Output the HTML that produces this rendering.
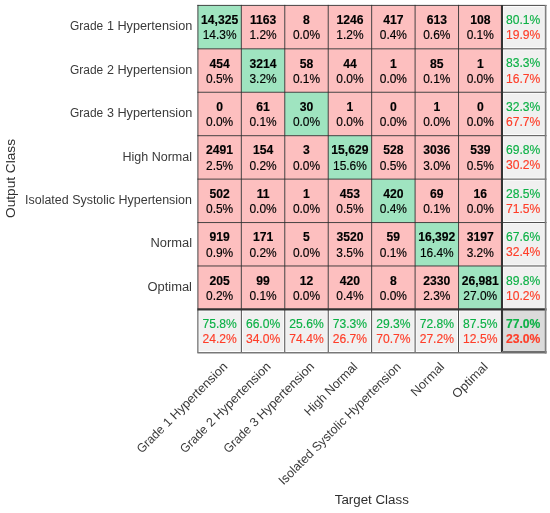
<!DOCTYPE html>
<html><head><meta charset="utf-8"><title>Confusion Matrix</title>
<style>
html,body{margin:0;padding:0;background:#fff;}
body{width:550px;height:513px;overflow:hidden;}
svg{display:block;font-family:"Liberation Sans",sans-serif;}
.b{font-weight:bold;}
.c{font-size:11.95px;text-anchor:middle;fill:#000;stroke:#000;stroke-width:.15px;}
.c.k{font-size:12.1px;}
.c.b{font-size:12.15px;stroke-width:.15px;}
.l{font-size:12.5px;fill:#3a3a3a;}
.t{font-size:13.7px;fill:#2e2e2e;}
</style></head><body>
<svg width="550" height="513" viewBox="0 0 550 513">
<rect width="550" height="513" fill="#fff"/>
<rect x="197.90" y="5.40" width="43.44" height="43.43" fill="#9fe4c0"/>
<rect x="241.34" y="5.40" width="43.44" height="43.43" fill="#fdbfbf"/>
<rect x="284.78" y="5.40" width="43.44" height="43.43" fill="#fdbfbf"/>
<rect x="328.22" y="5.40" width="43.44" height="43.43" fill="#fdbfbf"/>
<rect x="371.66" y="5.40" width="43.44" height="43.43" fill="#fdbfbf"/>
<rect x="415.10" y="5.40" width="43.44" height="43.43" fill="#fdbfbf"/>
<rect x="458.54" y="5.40" width="43.44" height="43.43" fill="#fdbfbf"/>
<rect x="503.88" y="6.80" width="39.92" height="40.63" fill="#f0f0f0"/>
<rect x="197.90" y="48.83" width="43.44" height="43.43" fill="#fdbfbf"/>
<rect x="241.34" y="48.83" width="43.44" height="43.43" fill="#9fe4c0"/>
<rect x="284.78" y="48.83" width="43.44" height="43.43" fill="#fdbfbf"/>
<rect x="328.22" y="48.83" width="43.44" height="43.43" fill="#fdbfbf"/>
<rect x="371.66" y="48.83" width="43.44" height="43.43" fill="#fdbfbf"/>
<rect x="415.10" y="48.83" width="43.44" height="43.43" fill="#fdbfbf"/>
<rect x="458.54" y="48.83" width="43.44" height="43.43" fill="#fdbfbf"/>
<rect x="503.88" y="50.23" width="39.92" height="40.63" fill="#f0f0f0"/>
<rect x="197.90" y="92.26" width="43.44" height="43.43" fill="#fdbfbf"/>
<rect x="241.34" y="92.26" width="43.44" height="43.43" fill="#fdbfbf"/>
<rect x="284.78" y="92.26" width="43.44" height="43.43" fill="#9fe4c0"/>
<rect x="328.22" y="92.26" width="43.44" height="43.43" fill="#fdbfbf"/>
<rect x="371.66" y="92.26" width="43.44" height="43.43" fill="#fdbfbf"/>
<rect x="415.10" y="92.26" width="43.44" height="43.43" fill="#fdbfbf"/>
<rect x="458.54" y="92.26" width="43.44" height="43.43" fill="#fdbfbf"/>
<rect x="503.88" y="93.66" width="39.92" height="40.63" fill="#f0f0f0"/>
<rect x="197.90" y="135.69" width="43.44" height="43.43" fill="#fdbfbf"/>
<rect x="241.34" y="135.69" width="43.44" height="43.43" fill="#fdbfbf"/>
<rect x="284.78" y="135.69" width="43.44" height="43.43" fill="#fdbfbf"/>
<rect x="328.22" y="135.69" width="43.44" height="43.43" fill="#9fe4c0"/>
<rect x="371.66" y="135.69" width="43.44" height="43.43" fill="#fdbfbf"/>
<rect x="415.10" y="135.69" width="43.44" height="43.43" fill="#fdbfbf"/>
<rect x="458.54" y="135.69" width="43.44" height="43.43" fill="#fdbfbf"/>
<rect x="503.88" y="137.09" width="39.92" height="40.63" fill="#f0f0f0"/>
<rect x="197.90" y="179.12" width="43.44" height="43.43" fill="#fdbfbf"/>
<rect x="241.34" y="179.12" width="43.44" height="43.43" fill="#fdbfbf"/>
<rect x="284.78" y="179.12" width="43.44" height="43.43" fill="#fdbfbf"/>
<rect x="328.22" y="179.12" width="43.44" height="43.43" fill="#fdbfbf"/>
<rect x="371.66" y="179.12" width="43.44" height="43.43" fill="#9fe4c0"/>
<rect x="415.10" y="179.12" width="43.44" height="43.43" fill="#fdbfbf"/>
<rect x="458.54" y="179.12" width="43.44" height="43.43" fill="#fdbfbf"/>
<rect x="503.88" y="180.52" width="39.92" height="40.63" fill="#f0f0f0"/>
<rect x="197.90" y="222.55" width="43.44" height="43.43" fill="#fdbfbf"/>
<rect x="241.34" y="222.55" width="43.44" height="43.43" fill="#fdbfbf"/>
<rect x="284.78" y="222.55" width="43.44" height="43.43" fill="#fdbfbf"/>
<rect x="328.22" y="222.55" width="43.44" height="43.43" fill="#fdbfbf"/>
<rect x="371.66" y="222.55" width="43.44" height="43.43" fill="#fdbfbf"/>
<rect x="415.10" y="222.55" width="43.44" height="43.43" fill="#9fe4c0"/>
<rect x="458.54" y="222.55" width="43.44" height="43.43" fill="#fdbfbf"/>
<rect x="503.88" y="223.95" width="39.92" height="40.63" fill="#f0f0f0"/>
<rect x="197.90" y="265.98" width="43.44" height="43.43" fill="#fdbfbf"/>
<rect x="241.34" y="265.98" width="43.44" height="43.43" fill="#fdbfbf"/>
<rect x="284.78" y="265.98" width="43.44" height="43.43" fill="#fdbfbf"/>
<rect x="328.22" y="265.98" width="43.44" height="43.43" fill="#fdbfbf"/>
<rect x="371.66" y="265.98" width="43.44" height="43.43" fill="#fdbfbf"/>
<rect x="415.10" y="265.98" width="43.44" height="43.43" fill="#fdbfbf"/>
<rect x="458.54" y="265.98" width="43.44" height="43.43" fill="#9fe4c0"/>
<rect x="503.88" y="267.38" width="39.92" height="40.63" fill="#f0f0f0"/>
<rect x="199.30" y="311.31" width="40.64" height="39.59" fill="#f0f0f0"/>
<rect x="242.74" y="311.31" width="40.64" height="39.59" fill="#f0f0f0"/>
<rect x="286.18" y="311.31" width="40.64" height="39.59" fill="#f0f0f0"/>
<rect x="329.62" y="311.31" width="40.64" height="39.59" fill="#f0f0f0"/>
<rect x="373.06" y="311.31" width="40.64" height="39.59" fill="#f0f0f0"/>
<rect x="416.50" y="311.31" width="40.64" height="39.59" fill="#f0f0f0"/>
<rect x="459.94" y="311.31" width="40.64" height="39.59" fill="#f0f0f0"/>
<rect x="501.98" y="309.41" width="43.44" height="43.43" fill="#dbdbdb"/>
<line x1="197.90" y1="4.90" x2="197.90" y2="352.80" stroke="#2e2e2e" stroke-width="0.88"/>
<line x1="197.40" y1="5.40" x2="546.50" y2="5.40" stroke="#2e2e2e" stroke-width="0.88"/>
<line x1="241.34" y1="4.90" x2="241.34" y2="352.80" stroke="#2e2e2e" stroke-width="0.88"/>
<line x1="197.40" y1="48.83" x2="546.50" y2="48.83" stroke="#2e2e2e" stroke-width="0.88"/>
<line x1="284.78" y1="4.90" x2="284.78" y2="352.80" stroke="#2e2e2e" stroke-width="0.88"/>
<line x1="197.40" y1="92.26" x2="546.50" y2="92.26" stroke="#2e2e2e" stroke-width="0.88"/>
<line x1="328.22" y1="4.90" x2="328.22" y2="352.80" stroke="#2e2e2e" stroke-width="0.88"/>
<line x1="197.40" y1="135.69" x2="546.50" y2="135.69" stroke="#2e2e2e" stroke-width="0.88"/>
<line x1="371.66" y1="4.90" x2="371.66" y2="352.80" stroke="#2e2e2e" stroke-width="0.88"/>
<line x1="197.40" y1="179.12" x2="546.50" y2="179.12" stroke="#2e2e2e" stroke-width="0.88"/>
<line x1="415.10" y1="4.90" x2="415.10" y2="352.80" stroke="#2e2e2e" stroke-width="0.88"/>
<line x1="197.40" y1="222.55" x2="546.50" y2="222.55" stroke="#2e2e2e" stroke-width="0.88"/>
<line x1="458.54" y1="4.90" x2="458.54" y2="352.80" stroke="#2e2e2e" stroke-width="0.88"/>
<line x1="197.40" y1="265.98" x2="546.50" y2="265.98" stroke="#2e2e2e" stroke-width="0.88"/>
<line x1="501.98" y1="4.90" x2="501.98" y2="352.80" stroke="#333" stroke-width="2.1"/>
<line x1="197.40" y1="309.41" x2="546.50" y2="309.41" stroke="#333" stroke-width="2.1"/>
<line x1="197.40" y1="352.70" x2="501.98" y2="352.70" stroke="#787878" stroke-width="1.6"/>
<line x1="501.98" y1="352.30" x2="546.60" y2="352.30" stroke="#6e6e6e" stroke-width="2.4"/>
<line x1="545.60" y1="4.90" x2="545.60" y2="353.50" stroke="#808080" stroke-width="1.7"/>
<text class="c b" x="219.62" y="24.20">14,325</text>
<text class="c" x="219.62" y="39.40">14.3%</text>
<text class="c b" x="263.06" y="24.20">1163</text>
<text class="c" x="263.06" y="39.40">1.2%</text>
<text class="c b" x="306.50" y="24.20">8</text>
<text class="c" x="306.50" y="39.40">0.0%</text>
<text class="c b" x="349.94" y="24.20">1246</text>
<text class="c" x="349.94" y="39.40">1.2%</text>
<text class="c b" x="393.38" y="24.20">417</text>
<text class="c" x="393.38" y="39.40">0.4%</text>
<text class="c b" x="436.82" y="24.20">613</text>
<text class="c" x="436.82" y="39.40">0.6%</text>
<text class="c b" x="480.26" y="24.20">108</text>
<text class="c" x="480.26" y="39.40">0.1%</text>
<text class="c k" x="523.10" y="23.95" style="fill:#0cb146;stroke:#0cb146">80.1%</text>
<text class="c k" x="523.10" y="39.10" style="fill:#ff3d28;stroke:#ff3d28">19.9%</text>
<text class="c b" x="219.62" y="67.63">454</text>
<text class="c" x="219.62" y="82.83">0.5%</text>
<text class="c b" x="263.06" y="67.63">3214</text>
<text class="c" x="263.06" y="82.83">3.2%</text>
<text class="c b" x="306.50" y="67.63">58</text>
<text class="c" x="306.50" y="82.83">0.1%</text>
<text class="c b" x="349.94" y="67.63">44</text>
<text class="c" x="349.94" y="82.83">0.0%</text>
<text class="c b" x="393.38" y="67.63">1</text>
<text class="c" x="393.38" y="82.83">0.0%</text>
<text class="c b" x="436.82" y="67.63">85</text>
<text class="c" x="436.82" y="82.83">0.1%</text>
<text class="c b" x="480.26" y="67.63">1</text>
<text class="c" x="480.26" y="82.83">0.0%</text>
<text class="c k" x="523.10" y="67.38" style="fill:#0cb146;stroke:#0cb146">83.3%</text>
<text class="c k" x="523.10" y="82.53" style="fill:#ff3d28;stroke:#ff3d28">16.7%</text>
<text class="c b" x="219.62" y="111.06">0</text>
<text class="c" x="219.62" y="126.26">0.0%</text>
<text class="c b" x="263.06" y="111.06">61</text>
<text class="c" x="263.06" y="126.26">0.1%</text>
<text class="c b" x="306.50" y="111.06">30</text>
<text class="c" x="306.50" y="126.26">0.0%</text>
<text class="c b" x="349.94" y="111.06">1</text>
<text class="c" x="349.94" y="126.26">0.0%</text>
<text class="c b" x="393.38" y="111.06">0</text>
<text class="c" x="393.38" y="126.26">0.0%</text>
<text class="c b" x="436.82" y="111.06">1</text>
<text class="c" x="436.82" y="126.26">0.0%</text>
<text class="c b" x="480.26" y="111.06">0</text>
<text class="c" x="480.26" y="126.26">0.0%</text>
<text class="c k" x="523.10" y="110.81" style="fill:#0cb146;stroke:#0cb146">32.3%</text>
<text class="c k" x="523.10" y="125.96" style="fill:#ff3d28;stroke:#ff3d28">67.7%</text>
<text class="c b" x="219.62" y="154.49">2491</text>
<text class="c" x="219.62" y="169.69">2.5%</text>
<text class="c b" x="263.06" y="154.49">154</text>
<text class="c" x="263.06" y="169.69">0.2%</text>
<text class="c b" x="306.50" y="154.49">3</text>
<text class="c" x="306.50" y="169.69">0.0%</text>
<text class="c b" x="349.94" y="154.49">15,629</text>
<text class="c" x="349.94" y="169.69">15.6%</text>
<text class="c b" x="393.38" y="154.49">528</text>
<text class="c" x="393.38" y="169.69">0.5%</text>
<text class="c b" x="436.82" y="154.49">3036</text>
<text class="c" x="436.82" y="169.69">3.0%</text>
<text class="c b" x="480.26" y="154.49">539</text>
<text class="c" x="480.26" y="169.69">0.5%</text>
<text class="c k" x="523.10" y="154.24" style="fill:#0cb146;stroke:#0cb146">69.8%</text>
<text class="c k" x="523.10" y="169.39" style="fill:#ff3d28;stroke:#ff3d28">30.2%</text>
<text class="c b" x="219.62" y="197.92">502</text>
<text class="c" x="219.62" y="213.12">0.5%</text>
<text class="c b" x="263.06" y="197.92">11</text>
<text class="c" x="263.06" y="213.12">0.0%</text>
<text class="c b" x="306.50" y="197.92">1</text>
<text class="c" x="306.50" y="213.12">0.0%</text>
<text class="c b" x="349.94" y="197.92">453</text>
<text class="c" x="349.94" y="213.12">0.5%</text>
<text class="c b" x="393.38" y="197.92">420</text>
<text class="c" x="393.38" y="213.12">0.4%</text>
<text class="c b" x="436.82" y="197.92">69</text>
<text class="c" x="436.82" y="213.12">0.1%</text>
<text class="c b" x="480.26" y="197.92">16</text>
<text class="c" x="480.26" y="213.12">0.0%</text>
<text class="c k" x="523.10" y="197.67" style="fill:#0cb146;stroke:#0cb146">28.5%</text>
<text class="c k" x="523.10" y="212.82" style="fill:#ff3d28;stroke:#ff3d28">71.5%</text>
<text class="c b" x="219.62" y="241.35">919</text>
<text class="c" x="219.62" y="256.55">0.9%</text>
<text class="c b" x="263.06" y="241.35">171</text>
<text class="c" x="263.06" y="256.55">0.2%</text>
<text class="c b" x="306.50" y="241.35">5</text>
<text class="c" x="306.50" y="256.55">0.0%</text>
<text class="c b" x="349.94" y="241.35">3520</text>
<text class="c" x="349.94" y="256.55">3.5%</text>
<text class="c b" x="393.38" y="241.35">59</text>
<text class="c" x="393.38" y="256.55">0.1%</text>
<text class="c b" x="436.82" y="241.35">16,392</text>
<text class="c" x="436.82" y="256.55">16.4%</text>
<text class="c b" x="480.26" y="241.35">3197</text>
<text class="c" x="480.26" y="256.55">3.2%</text>
<text class="c k" x="523.10" y="241.10" style="fill:#0cb146;stroke:#0cb146">67.6%</text>
<text class="c k" x="523.10" y="256.25" style="fill:#ff3d28;stroke:#ff3d28">32.4%</text>
<text class="c b" x="219.62" y="284.78">205</text>
<text class="c" x="219.62" y="299.98">0.2%</text>
<text class="c b" x="263.06" y="284.78">99</text>
<text class="c" x="263.06" y="299.98">0.1%</text>
<text class="c b" x="306.50" y="284.78">12</text>
<text class="c" x="306.50" y="299.98">0.0%</text>
<text class="c b" x="349.94" y="284.78">420</text>
<text class="c" x="349.94" y="299.98">0.4%</text>
<text class="c b" x="393.38" y="284.78">8</text>
<text class="c" x="393.38" y="299.98">0.0%</text>
<text class="c b" x="436.82" y="284.78">2330</text>
<text class="c" x="436.82" y="299.98">2.3%</text>
<text class="c b" x="480.26" y="284.78">26,981</text>
<text class="c" x="480.26" y="299.98">27.0%</text>
<text class="c k" x="523.10" y="284.53" style="fill:#0cb146;stroke:#0cb146">89.8%</text>
<text class="c k" x="523.10" y="299.68" style="fill:#ff3d28;stroke:#ff3d28">10.2%</text>
<text class="c k" x="219.62" y="327.96" style="fill:#0cb146;stroke:#0cb146">75.8%</text>
<text class="c k" x="219.62" y="343.11" style="fill:#ff3d28;stroke:#ff3d28">24.2%</text>
<text class="c k" x="263.06" y="327.96" style="fill:#0cb146;stroke:#0cb146">66.0%</text>
<text class="c k" x="263.06" y="343.11" style="fill:#ff3d28;stroke:#ff3d28">34.0%</text>
<text class="c k" x="306.50" y="327.96" style="fill:#0cb146;stroke:#0cb146">25.6%</text>
<text class="c k" x="306.50" y="343.11" style="fill:#ff3d28;stroke:#ff3d28">74.4%</text>
<text class="c k" x="349.94" y="327.96" style="fill:#0cb146;stroke:#0cb146">73.3%</text>
<text class="c k" x="349.94" y="343.11" style="fill:#ff3d28;stroke:#ff3d28">26.7%</text>
<text class="c k" x="393.38" y="327.96" style="fill:#0cb146;stroke:#0cb146">29.3%</text>
<text class="c k" x="393.38" y="343.11" style="fill:#ff3d28;stroke:#ff3d28">70.7%</text>
<text class="c k" x="436.82" y="327.96" style="fill:#0cb146;stroke:#0cb146">72.8%</text>
<text class="c k" x="436.82" y="343.11" style="fill:#ff3d28;stroke:#ff3d28">27.2%</text>
<text class="c k" x="480.26" y="327.96" style="fill:#0cb146;stroke:#0cb146">87.5%</text>
<text class="c k" x="480.26" y="343.11" style="fill:#ff3d28;stroke:#ff3d28">12.5%</text>
<text class="c b" x="523.10" y="327.96" style="fill:#0cb146;stroke:#0cb146">77.0%</text>
<text class="c b" x="523.10" y="343.11" style="fill:#ff3d28;stroke:#ff3d28">23.0%</text>
<g transform="translate(192,30.32)"><text class="l" x="-122.00" y="0" textLength="33.2" lengthAdjust="spacingAndGlyphs">Grade</text><text class="l" x="-84.90" y="0">1</text><text class="l" x="-74.60" y="0" textLength="74.9" lengthAdjust="spacingAndGlyphs">Hypertension</text></g>
<g transform="translate(192,73.75)"><text class="l" x="-122.00" y="0" textLength="33.2" lengthAdjust="spacingAndGlyphs">Grade</text><text class="l" x="-84.90" y="0">2</text><text class="l" x="-74.60" y="0" textLength="74.9" lengthAdjust="spacingAndGlyphs">Hypertension</text></g>
<g transform="translate(192,117.18)"><text class="l" x="-122.00" y="0" textLength="33.2" lengthAdjust="spacingAndGlyphs">Grade</text><text class="l" x="-84.90" y="0">3</text><text class="l" x="-74.60" y="0" textLength="74.9" lengthAdjust="spacingAndGlyphs">Hypertension</text></g>
<g transform="translate(192,160.60)"><text class="l" x="-69.45" y="0" textLength="69.45" lengthAdjust="spacingAndGlyphs">High Normal</text></g>
<g transform="translate(192,204.03)"><text class="l" x="-167.00" y="0" textLength="167.0" lengthAdjust="spacingAndGlyphs">Isolated Systolic Hypertension</text></g>
<g transform="translate(192,247.47)"><text class="l" x="-41.60" y="0" textLength="41.6" lengthAdjust="spacingAndGlyphs">Normal</text></g>
<g transform="translate(192,290.89)"><text class="l" x="-44.60" y="0" textLength="44.6" lengthAdjust="spacingAndGlyphs">Optimal</text></g>
<g transform="translate(227.92,367.50) rotate(-45)"><text class="l" x="-122.00" y="0" textLength="33.2" lengthAdjust="spacingAndGlyphs">Grade</text><text class="l" x="-84.90" y="0">1</text><text class="l" x="-74.60" y="0" textLength="74.9" lengthAdjust="spacingAndGlyphs">Hypertension</text></g>
<g transform="translate(271.36,367.50) rotate(-45)"><text class="l" x="-122.00" y="0" textLength="33.2" lengthAdjust="spacingAndGlyphs">Grade</text><text class="l" x="-84.90" y="0">2</text><text class="l" x="-74.60" y="0" textLength="74.9" lengthAdjust="spacingAndGlyphs">Hypertension</text></g>
<g transform="translate(314.80,367.50) rotate(-45)"><text class="l" x="-122.00" y="0" textLength="33.2" lengthAdjust="spacingAndGlyphs">Grade</text><text class="l" x="-84.90" y="0">3</text><text class="l" x="-74.60" y="0" textLength="74.9" lengthAdjust="spacingAndGlyphs">Hypertension</text></g>
<g transform="translate(358.24,367.50) rotate(-45)"><text class="l" x="-69.45" y="0" textLength="69.45" lengthAdjust="spacingAndGlyphs">High Normal</text></g>
<g transform="translate(401.68,367.50) rotate(-45)"><text class="l" x="-167.00" y="0" textLength="167.0" lengthAdjust="spacingAndGlyphs">Isolated Systolic Hypertension</text></g>
<g transform="translate(445.12,367.50) rotate(-45)"><text class="l" x="-41.60" y="0" textLength="41.6" lengthAdjust="spacingAndGlyphs">Normal</text></g>
<g transform="translate(488.56,367.50) rotate(-45)"><text class="l" x="-44.60" y="0" textLength="44.6" lengthAdjust="spacingAndGlyphs">Optimal</text></g>
<text class="t" transform="translate(14.6,178.5) rotate(-90)" text-anchor="middle" textLength="79" lengthAdjust="spacingAndGlyphs">Output Class</text>
<text class="t" x="371.8" y="504.2" text-anchor="middle" textLength="74" lengthAdjust="spacingAndGlyphs">Target Class</text>
</svg></body></html>
